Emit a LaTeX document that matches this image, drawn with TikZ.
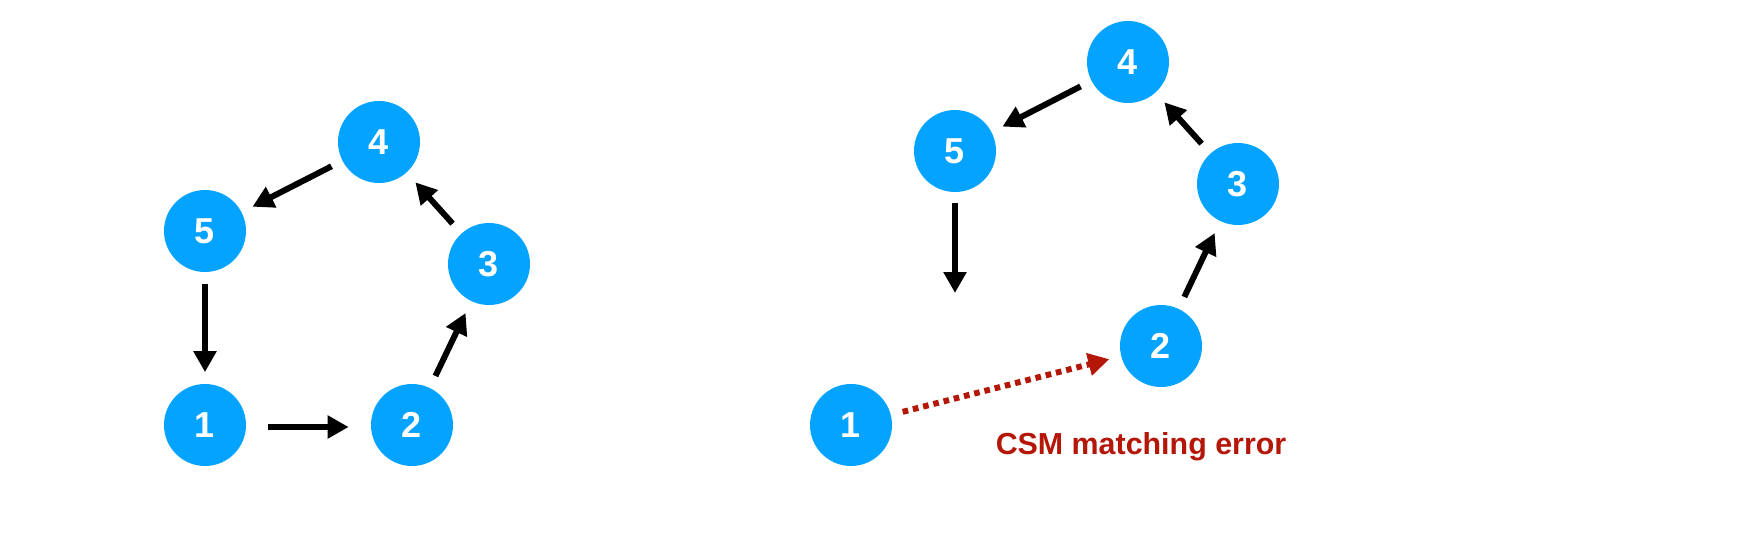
\documentclass[tikz,border=0pt]{standalone}
\usepackage{fontspec}
\setmainfont{Liberation Sans}
\usetikzlibrary{arrows.meta}
\definecolor{nodeblue}{RGB}{3,163,255}
\definecolor{errred}{RGB}{180,22,8}
\begin{document}
\begin{tikzpicture}[x=0.02cm,y=-0.02cm,
  vert/.style={circle,fill=nodeblue,minimum size=1.64cm,inner sep=0pt,text=white,font=\fontsize{20.5}{24}\selectfont\bfseries},
  edge/.style={line width=3.4pt,-{Triangle[length=0.42cm,width=0.44cm]},shorten <=#1,shorten >=#1},
  edge/.default=0.26cm,
  erredge/.style={line width=3.4pt,errred,dash pattern=on 3.2pt off 2.8pt,-{Triangle[length=0.42cm,width=0.44cm]},shorten <=0.24cm,shorten >=0.24cm}
]
\useasboundingbox (0,0) rectangle (1756,548);
% left graph
\node[vert] (a1) at (205,425) {1};
\node[vert] (a2) at (412,425) {2};
\node[vert] (a3) at (489,264) {3};
\node[vert] (a4) at (379,142) {4};
\node[vert] (a5) at (205,231) {5};
\draw[edge=0.23cm] (a5) -- (a1);
\draw[edge=0.44cm] (a1.east |- 0,427) -- (a2.west |- 0,427);
\draw[edge] (a2) -- (a3);
\draw[edge] (a3) -- (a4);
\draw[edge=0.24cm] (a4) -- (a5);
% right graph
\node[vert] (b1) at (851,425) {1};
\node[vert] (b2) at (1161,346) {2};
\node[vert] (b3) at (1238,184) {3};
\node[vert] (b4) at (1128,62) {4};
\node[vert] (b5) at (955,151) {5};
\coordinate (bend) at (955,293);
\draw[line width=3.4pt,-{Triangle[length=0.42cm,width=0.44cm]},shorten <=0.22cm] (b5) -- (bend);
\draw[erredge] (b1) -- (b2);
\draw[edge] (b2) -- (b3);
\draw[edge] (b3) -- (b4);
\draw[edge=0.24cm] (b4) -- (b5);
\node[text=errred,font=\fontsize{17.3}{20}\selectfont\bfseries] (err) at (1141,447) {CSM matching error};
\end{tikzpicture}
\end{document}
